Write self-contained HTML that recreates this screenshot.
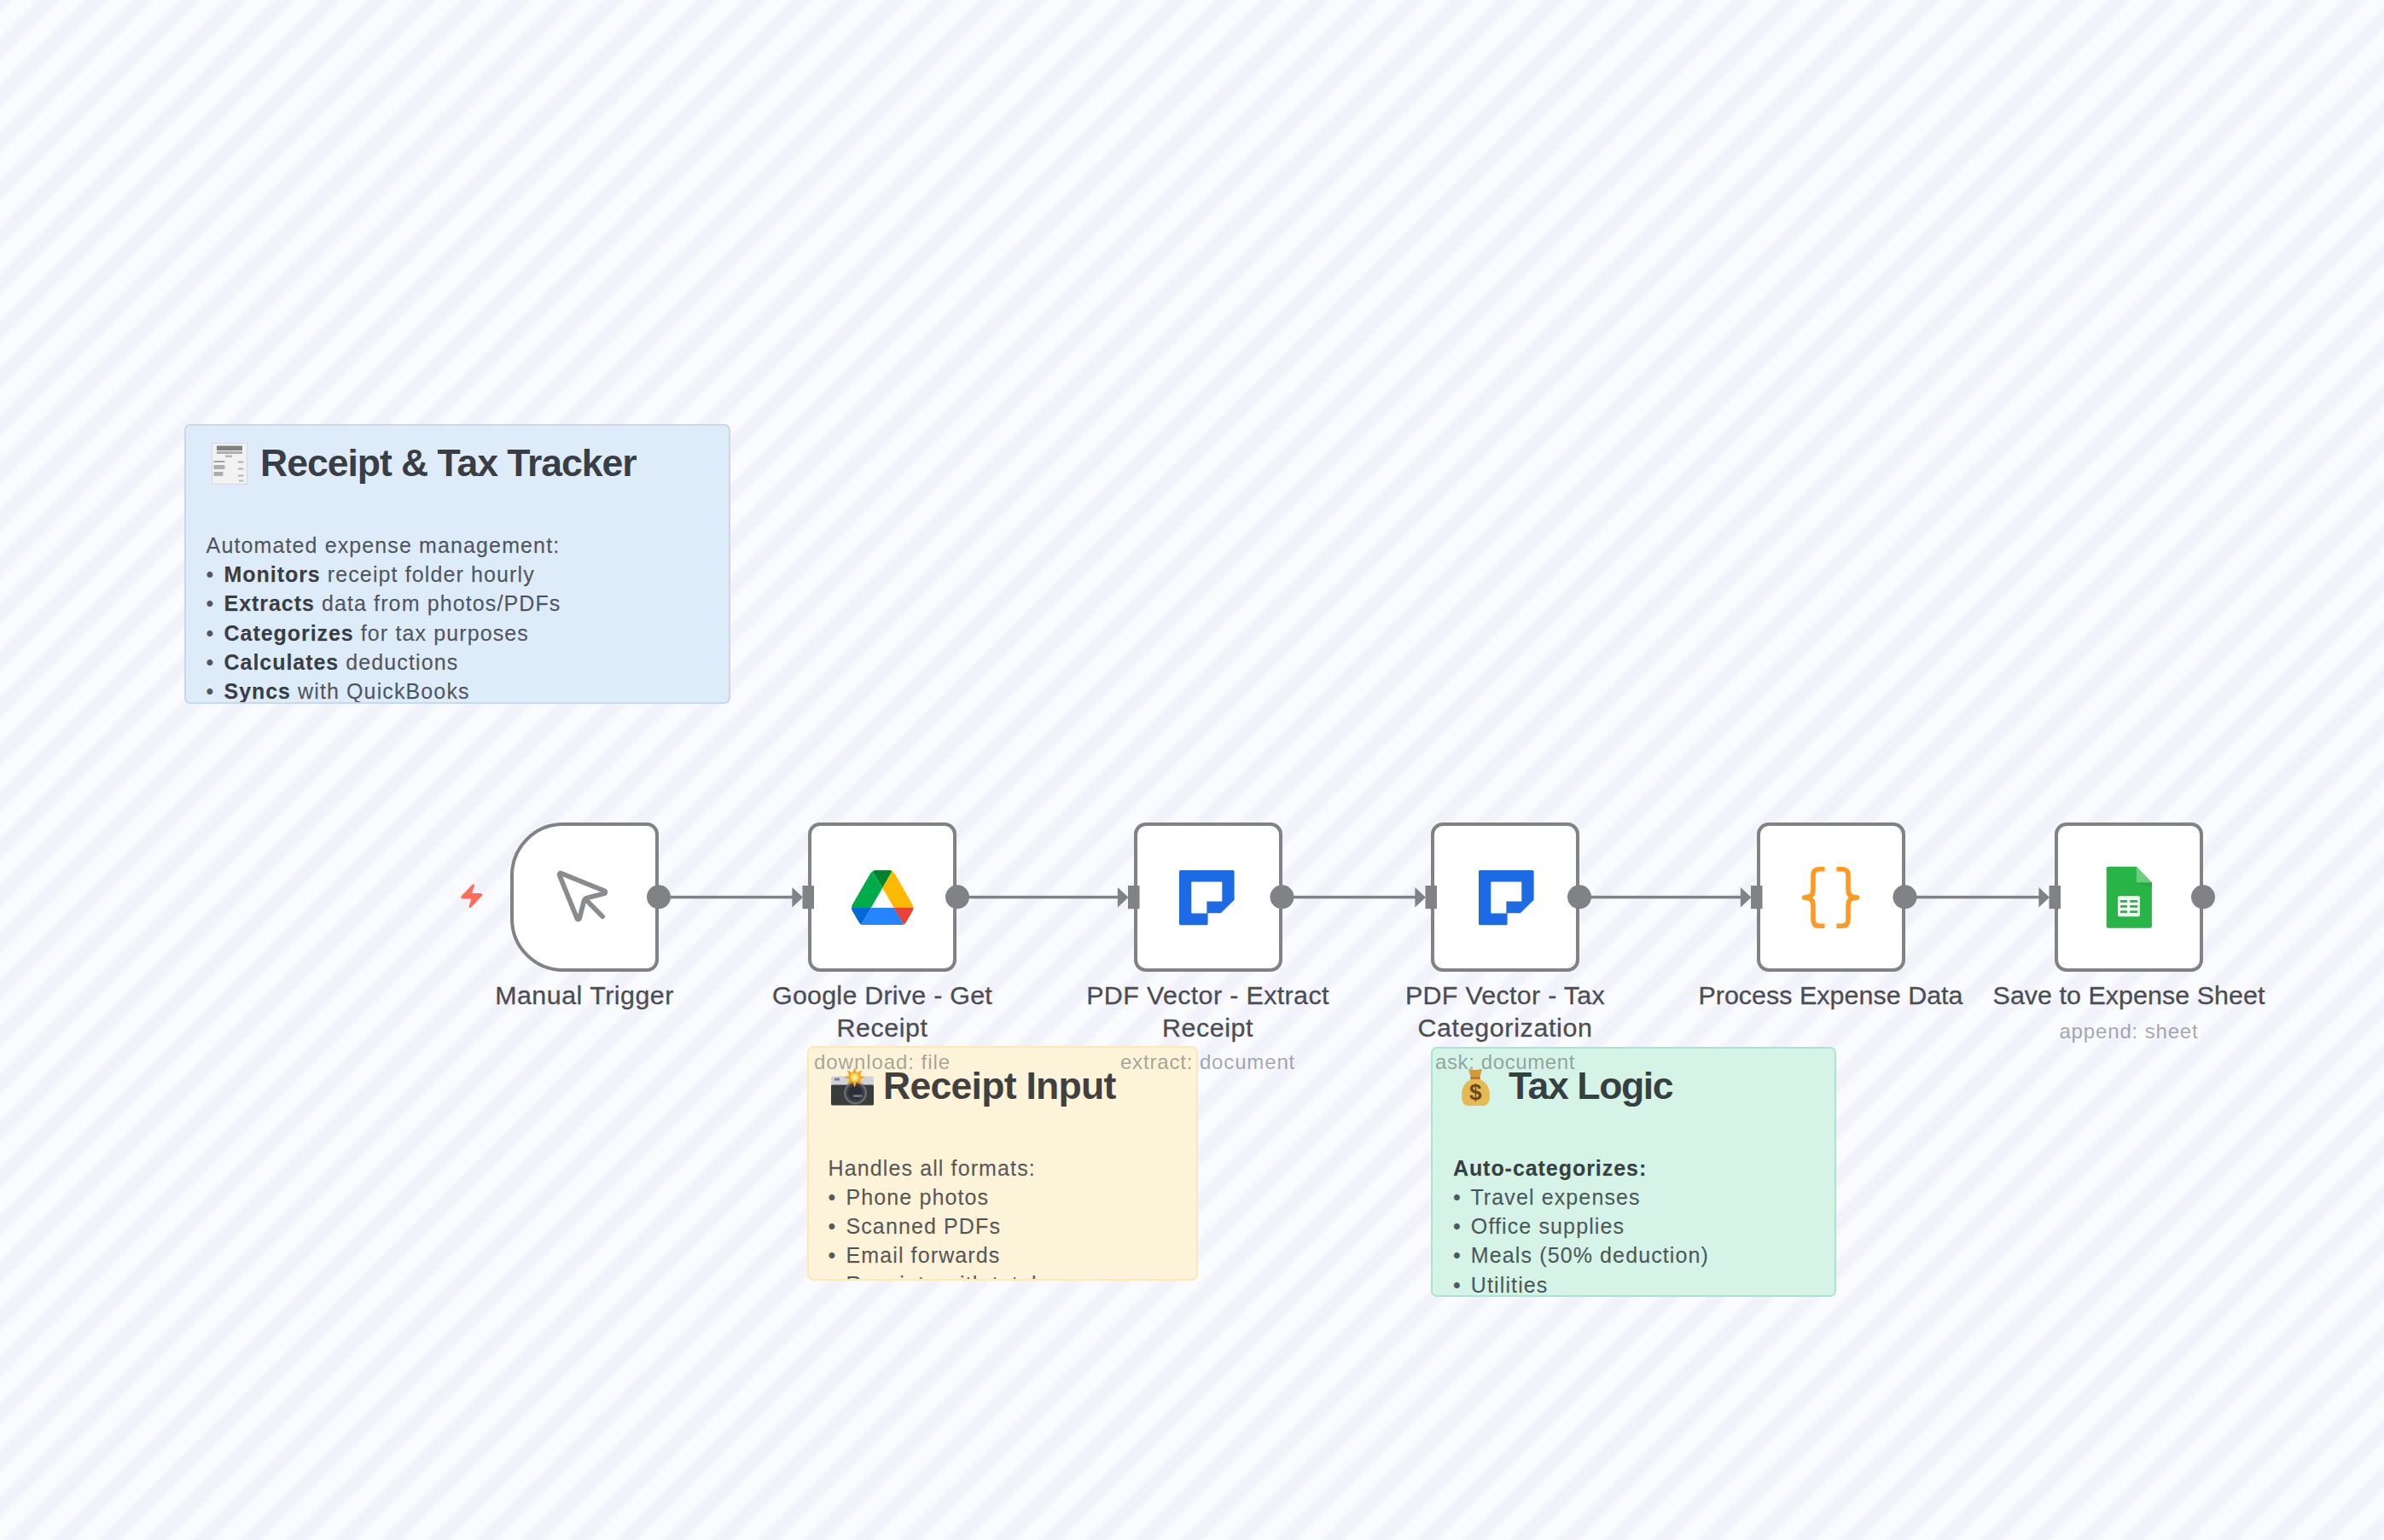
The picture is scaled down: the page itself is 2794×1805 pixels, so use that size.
<!DOCTYPE html>
<html><head><meta charset="utf-8">
<style>
html,body{margin:0;padding:0;}
body{width:2794px;height:1805px;position:relative;overflow:hidden;
 font-family:"Liberation Sans",sans-serif;
 background-color:#f7f7fb;
 background-image:repeating-linear-gradient(-45deg,#fafbfe 0px,#fafbfe 1.5px,#f2f2fb 8px,#f2f2fb 19px,#fafbfe 25.5px,#fafbfe 39px);
}
.abs{position:absolute;}
.sticky{position:absolute;box-sizing:border-box;border-radius:7px;overflow:hidden;border:2px solid;}
.sticky .ttl{position:absolute;left:0;white-space:nowrap;font-weight:700;font-size:44.6px;line-height:50px;letter-spacing:-0.6px;color:rgba(12,14,20,0.8);}
.sticky .body{position:absolute;left:23px;white-space:nowrap;font-size:25px;line-height:34.2px;letter-spacing:1.12px;color:rgba(16,20,28,0.70);-webkit-text-stroke:0.25px rgba(16,20,28,0.5);}
.sticky .body b{color:rgba(10,14,20,0.80);letter-spacing:0.95px;}
.node{position:absolute;top:964px;width:174px;height:175px;box-sizing:border-box;border:4px solid #808286;background:#fff;border-radius:14px;}
.lbl{position:absolute;width:400px;text-align:center;white-space:nowrap;font-size:30.4px;line-height:37.6px;color:#4b4d52;-webkit-text-stroke:0.3px #4b4d52;}
.sticky .body i{font-style:normal;margin-right:3px;}
.sub{position:absolute;width:400px;text-align:center;white-space:nowrap;font-size:24px;line-height:30px;letter-spacing:0.85px;color:rgba(58,62,70,0.46);}
</style></head><body>

<!-- Blue sticky -->
<div class="sticky" style="left:216px;top:497px;width:640px;height:328px;background:#deebf8;border-color:#c8d9ea;">
  <svg class="abs" style="left:30.2px;top:19.5px" width="42" height="49" viewBox="0 0 42 49">
    <rect x="0.5" y="0.5" width="41" height="48" fill="#f2f2f2" stroke="#d5dbe1" stroke-width="1.2"/>
    <rect x="6" y="3.5" width="30" height="5.5" fill="#808080"/>
    <rect x="6" y="10" width="30" height="3" fill="#acacac"/>
    <rect x="16" y="14.5" width="8" height="2.5" fill="#b9b9b9"/>
    <rect x="2.5" y="21" width="13" height="2" fill="#a3a3a3"/>
    <rect x="2.5" y="26" width="13" height="5" fill="#adadad"/>
    <rect x="2.5" y="34" width="11" height="5" fill="#adadad"/>
    <rect x="31" y="21.5" width="6.5" height="2" fill="#b3b3b3"/>
    <rect x="31" y="29.5" width="6.5" height="2" fill="#b3b3b3"/>
    <rect x="31" y="37.5" width="6.5" height="2" fill="#b3b3b3"/>
    <rect x="32" y="43.5" width="5.5" height="2" fill="#bababa"/>
  </svg>
  <div class="ttl" style="left:87px;top:18.6px;letter-spacing:-1.05px">Receipt &amp; Tax Tracker</div>
  <div class="body" style="left:23.6px;top:123px">Automated expense management:<br><i>•</i> <b>Monitors</b> receipt folder hourly<br><i>•</i> <b>Extracts</b> data from photos/PDFs<br><i>•</i> <b>Categorizes</b> for tax purposes<br><i>•</i> <b>Calculates</b> deductions<br><i>•</i> <b>Syncs</b> with QuickBooks</div>
</div>

<!-- Yellow sticky -->
<div class="sticky" style="left:946px;top:1226px;width:458px;height:275px;background:#fdf3d9;border-color:#fce8b8;">
  <svg class="abs" style="left:24.8px;top:20px;overflow:visible" width="52" height="48" viewBox="0 -12 52 48">
    <path d="M3,1.5 H49 Q51,1.5 51,3.5 V12 H1 V3.5 Q1,1.5 3,1.5 Z" fill="#cfd2d8"/>
    <rect x="5" y="3.5" width="6" height="3" fill="#7b7e86"/>
    <rect x="1" y="11.5" width="50" height="24" rx="1.5" fill="#3a3c3b"/>
    <circle cx="29.5" cy="21" r="13.5" fill="#6a6d70"/>
    <circle cx="29.5" cy="21" r="11" fill="#3b3e44"/>
    <circle cx="29.5" cy="21" r="8" fill="#2b2e36"/>
    <ellipse cx="32" cy="24.5" rx="6" ry="1.6" fill="#74777c"/>
    <path d="M28.6,-9 L31.2,-2.5 37.5,-6 34.8,0.5 41,2.8 34.8,5.2 37.5,11.5 31.2,8 28.6,14.5 26,8 19.7,11.5 22.4,5.2 16.2,2.8 22.4,0.5 19.7,-6 26,-2.5 Z" fill="#f7a520"/>
    <circle cx="28.6" cy="2.8" r="5" fill="#ffd84a"/>
    <circle cx="28.6" cy="2.8" r="2.6" fill="#fff3b0"/>
  </svg>
  <div class="ttl" style="left:87px;top:20.1px;letter-spacing:-0.75px">Receipt Input</div>
  <div class="body" style="left:22.5px;top:124.1px;line-height:34px">Handles all formats:<br><i>•</i> Phone photos<br><i>•</i> Scanned PDFs<br><i>•</i> Email forwards<br><i>•</i> Receipts with totals</div>
</div>

<!-- Green sticky -->
<div class="sticky" style="left:1677px;top:1227px;width:475px;height:293px;background:#d5f3e6;border-color:#a9e5cd;">
  <svg class="abs" style="left:32.7px;top:22.6px" width="35" height="45" viewBox="0 0 35 45">
    <path d="M9,1 Q17,3 25,1 L22,12 H12 Z" fill="#d39a3a"/>
    <rect x="11" y="10" width="12" height="4" rx="2" fill="#b9782a"/>
    <path d="M12,13 H22 Q34,18 34,32 Q34,44 26,44 H9 Q1,44 1,32 Q1,18 12,13 Z" fill="#e4bb52"/>
    <text x="17.3" y="37" text-anchor="middle" font-family="Liberation Sans" font-weight="700" font-size="26" fill="#6b4727">$</text>
  </svg>
  <div class="ttl" style="left:89px;top:19.2px;letter-spacing:-1.4px">Tax Logic</div>
  <div class="body" style="left:23.9px;top:122.6px;line-height:34.3px"><b>Auto-categorizes:</b><br><i>•</i> Travel expenses<br><i>•</i> Office supplies<br><i>•</i> Meals (50% deduction)<br><i>•</i> Utilities</div>
</div>

<!-- CONNECTIONS & HANDLES -->
<svg class="abs" style="left:0;top:0" width="2794" height="1805" viewBox="0 0 2794 1805">
  <g fill="#808286" stroke="none">
    <!-- lines -->
    <rect x="770" y="1049.8" width="160" height="3.5"/>
    <rect x="1119" y="1049.8" width="192" height="3.5"/>
    <rect x="1500.5" y="1049.8" width="160" height="3.5"/>
    <rect x="1849" y="1049.8" width="192" height="3.5"/>
    <rect x="2230.5" y="1049.8" width="160" height="3.5"/>
    </g>
</svg>

<!-- NODES -->
<div class="node" style="left:598px;border-radius:62px 14px 14px 62px;">
  <svg class="abs" style="left:44px;top:46px" width="76" height="76" viewBox="0 0 24 24" fill="none" stroke="#898b8f" stroke-width="1.8" stroke-linecap="round" stroke-linejoin="round">
    <path d="M12.586 12.586 19 19"/>
    <path d="M3.688 3.037a.497.497 0 0 0-.651.651l6.5 15.999a.501.501 0 0 0 .947-.062l1.569-6.083a2 2 0 0 1 1.448-1.479l6.124-1.579a.5.5 0 0 0 .063-.947z"/>
  </svg>
</div>
<div class="node" style="left:947px;">
  <svg class="abs" style="left:47.3px;top:51.6px" width="72.5" height="64.8" viewBox="0 0 87.3 78">
    <path d="m6.6 66.85 3.85 6.65c.8 1.4 1.95 2.5 3.3 3.3l13.75-23.8h-27.5c0 1.55.4 3.1 1.2 4.5z" fill="#0066da"/>
    <path d="m43.65 25-13.75-23.8c-1.35.8-2.5 1.9-3.3 3.3l-25.4 44a9.06 9.06 0 0 0 -1.2 4.5h27.5z" fill="#00ac47"/>
    <path d="m73.55 76.8c1.35-.8 2.5-1.9 3.3-3.3l1.6-2.75 7.65-13.25c.8-1.4 1.2-2.95 1.2-4.5h-27.502l5.852 11.5z" fill="#ea4335"/>
    <path d="m43.65 25 13.75-23.8c-1.35-.8-2.9-1.2-4.5-1.2h-18.5c-1.6 0-3.15.45-4.5 1.2z" fill="#00832d"/>
    <path d="m59.8 53h-32.3l-13.75 23.8c1.35.8 2.9 1.2 4.5 1.2h50.8c1.6 0 3.15-.45 4.5-1.2z" fill="#2684fc"/>
    <path d="m73.4 26.5-12.7-22c-.8-1.4-1.950-2.5-3.3-3.3l-13.75 23.8 16.15 28h27.45c0-1.55-.4-3.1-1.2-4.5z" fill="#ffba00"/>
  </svg>
</div>
<div class="node" style="left:1328.5px;">
  <svg class="abs" style="left:49.5px;top:51.6px" width="65" height="65" viewBox="0 0 65 65">
    <path fill="#1d6ae5" fill-rule="evenodd" d="M1.5,0 H63 Q64.6,0 64.6,1.5 V34.8 L48.8,50.3 H33.6 V62.8 Q33.6,64.3 32.1,64.3 H1.5 Q0,64.3 0,62.8 V1.5 Q0,0 1.5,0 Z M15.3,13.4 H50.3 V36.5 H32.4 V50.6 H15.3 Q14.3,50.6 14.3,49.6 V14.4 Q14.3,13.4 15.3,13.4 Z"/>
  </svg>
</div>
<div class="node" style="left:1677px;">
  <svg class="abs" style="left:51.5px;top:51.6px" width="65" height="65" viewBox="0 0 65 65">
    <path fill="#1d6ae5" fill-rule="evenodd" d="M1.5,0 H63 Q64.6,0 64.6,1.5 V34.8 L48.8,50.3 H33.6 V62.8 Q33.6,64.3 32.1,64.3 H1.5 Q0,64.3 0,62.8 V1.5 Q0,0 1.5,0 Z M15.3,13.4 H50.3 V36.5 H32.4 V50.6 H15.3 Q14.3,50.6 14.3,49.6 V14.4 Q14.3,13.4 15.3,13.4 Z"/>
  </svg>
</div>
<div class="node" style="left:2058.5px;">
  <svg class="abs" style="left:-4px;top:-4px" width="174" height="175" viewBox="0 0 174 175" fill="none" stroke="#ff9922" stroke-width="5.6" stroke-linejoin="round">
    <path d="M79.5,54.8 H73 Q66,54.8 66,62 V79 Q66,88 55.5,88 Q66,88 66,97 V114 Q66,121.2 73,121.2 H79.5"/>
    <path d="M93.5,54.8 H100 Q107,54.8 107,62 V79 Q107,88 117.5,88 Q107,88 107,97 V114 Q107,121.2 100,121.2 H93.5"/>
  </svg>
</div>
<div class="node" style="left:2408px;">
  <svg class="abs" style="left:-4px;top:-4px" width="174" height="175" viewBox="0 0 174 175">
    <path d="M62.7,51.8 H95.8 L113.9,70.5 V121.7 Q113.9,123.7 111.9,123.7 H62.7 Q60.7,123.7 60.7,121.7 V53.8 Q60.7,51.8 62.7,51.8 Z" fill="#28b446"/>
    <path d="M95.8,51.8 L113.9,70.5 H95.8 Z" fill="#6ccf7d"/>
    <path d="M95.8,70.5 H113.9 V76 Z" fill="#21a03c" opacity="0.6"/>
    <rect x="74.1" y="86.3" width="25.8" height="24" rx="1.5" fill="#f4fbf5"/>
    <g fill="#28b446">
      <rect x="77" y="91" width="8" height="2.8"/><rect x="88.2" y="91" width="9" height="2.8"/>
      <rect x="77" y="97" width="8" height="2.8"/><rect x="88.2" y="97" width="9" height="2.8"/>
      <rect x="77" y="103.3" width="8" height="2.8"/><rect x="88.2" y="103.3" width="9" height="2.8"/>
    </g>
  </svg>
</div>

<!-- output handles -->
<svg class="abs" style="left:0;top:0" width="2794" height="1805" viewBox="0 0 2794 1805">
  <g fill="#808286">
<!-- triangles + input rects -->
    <path d="M928.4,1040 L928.4,1063.4 L941,1051.7 Z"/><rect x="940.5" y="1038" width="13.5" height="27.2"/>
    <path d="M1309.9,1040 L1309.9,1063.4 L1322.5,1051.7 Z"/><rect x="1322" y="1038" width="13.5" height="27.2"/>
    <path d="M1658.4,1040 L1658.4,1063.4 L1671,1051.7 Z"/><rect x="1670.5" y="1038" width="13.5" height="27.2"/>
    <path d="M2039.9,1040 L2039.9,1063.4 L2052.5,1051.7 Z"/><rect x="2052" y="1038" width="13.5" height="27.2"/>
    <path d="M2389.4,1040 L2389.4,1063.4 L2402,1051.7 Z"/><rect x="2401.5" y="1038" width="13.5" height="27.2"/>
  
    <circle cx="772" cy="1051.3" r="14"/>
    <circle cx="1122" cy="1051.3" r="14"/>
    <circle cx="1502.5" cy="1051.3" r="14"/>
    <circle cx="1851" cy="1051.3" r="14"/>
    <circle cx="2232.5" cy="1051.3" r="14"/>
    <circle cx="2582" cy="1051.3" r="14"/>
  </g>
  <g transform="translate(536.8,1034.2) scale(1.33)"><path d="M4 14a1 1 0 0 1-.78-1.63l9.9-10.2a.5.5 0 0 1 .86.46l-1.92 6.02A1 1 0 0 0 13 10h7a1 1 0 0 1 .78 1.63l-9.9 10.2a.5.5 0 0 1-.86-.46l1.92-6.02A1 1 0 0 0 11 14z" fill="#ff6d5a" stroke="#ff6d5a" stroke-width="0.9" stroke-linejoin="round"/></g>
</svg>

<!-- LABELS -->
<div class="lbl" style="left:485px;top:1148.4px"><span style="letter-spacing:0.5px">Manual Trigger</span></div>
<div class="lbl" style="left:834px;top:1148.4px"><span style="letter-spacing:0.26px">Google Drive - Get</span><br><span style="letter-spacing:0.55px">Receipt</span></div>
<div class="lbl" style="left:1215.5px;top:1148.4px"><span style="letter-spacing:0.38px">PDF Vector - Extract</span><br><span style="letter-spacing:0.55px">Receipt</span></div>
<div class="lbl" style="left:1564px;top:1148.4px"><span style="letter-spacing:0.31px">PDF Vector - Tax</span><br><span style="letter-spacing:0.66px">Categorization</span></div>
<div class="lbl" style="left:1945.5px;top:1148.4px"><span style="letter-spacing:0.05px">Process Expense Data</span></div>
<div class="lbl" style="left:2295px;top:1148.4px"><span style="letter-spacing:0.06px">Save to Expense Sheet</span></div>

<div class="sub" style="left:834px;top:1229.7px;letter-spacing:0.94px">download: file</div>
<div class="sub" style="left:1215.5px;top:1229.7px">extract: document</div>
<div class="sub" style="left:1564px;top:1229.7px;letter-spacing:0.6px">ask: document</div>
<div class="sub" style="left:2295px;top:1194.2px">append: sheet</div>

</body></html>
